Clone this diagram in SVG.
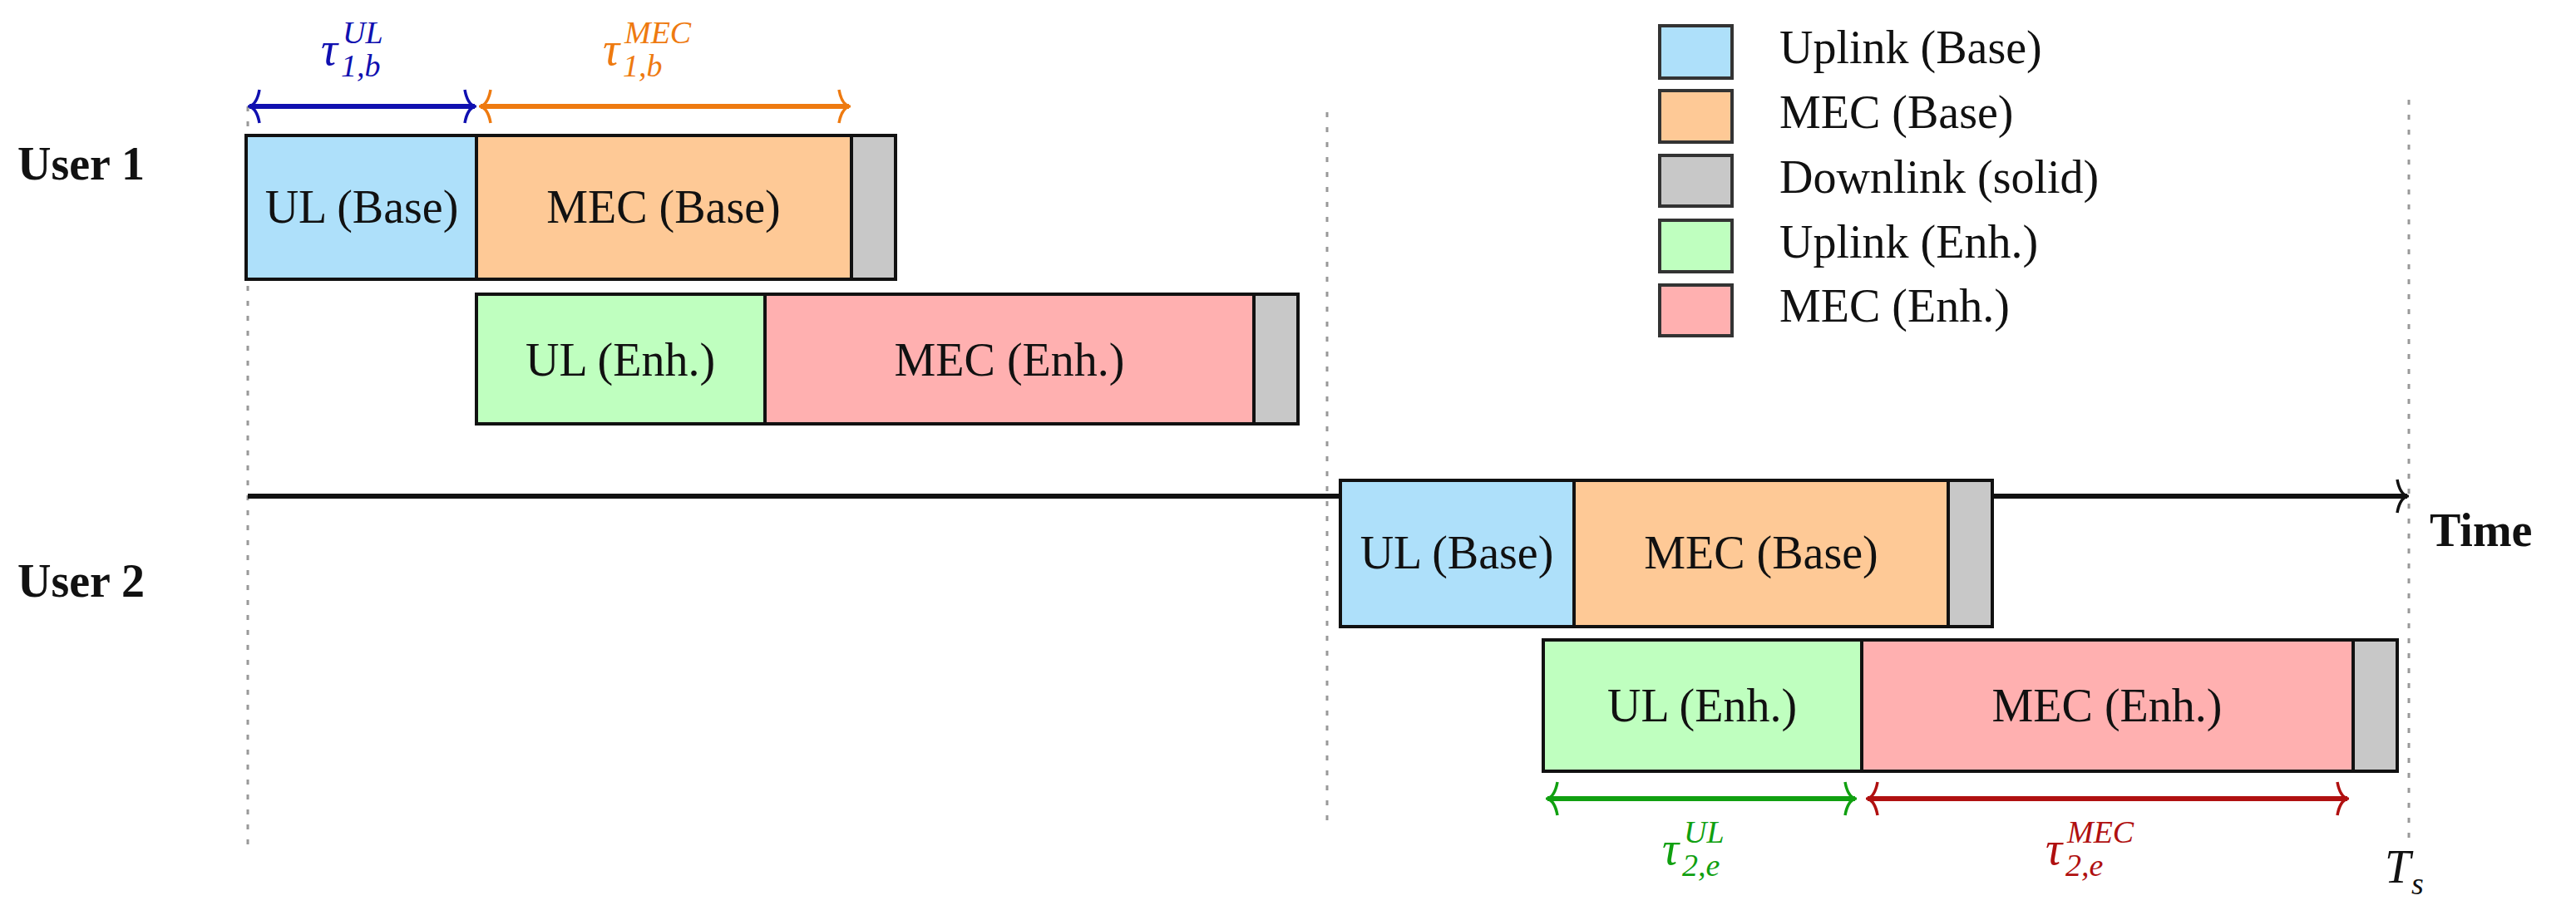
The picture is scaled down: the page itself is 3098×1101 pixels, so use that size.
<svg xmlns="http://www.w3.org/2000/svg" width="3098" height="1101" viewBox="0 0 3098 1101">
<style>
text{font-family:"Liberation Serif","DejaVu Serif",serif;fill:#111}
.t{font-size:56px;text-anchor:middle}
.lg{font-size:56px}
.b{font-size:56px;font-weight:bold}
.box{stroke:#111;stroke-width:4}
.ub{fill:#aee0fa}.mb{fill:#fec996}.dl{fill:#c8c8c8}.ue{fill:#bfffbf}.me{fill:#ffb0b0}
.dot{stroke:#999;stroke-width:3;stroke-dasharray:6 12;fill:none}
.math{font-style:italic;font-size:56px}
.sub{font-style:italic;font-size:38px}
</style>
<defs>
<marker id="tip" viewBox="-14 -22 16 44" markerWidth="16" markerHeight="44" refX="0" refY="0" orient="auto-start-reverse" markerUnits="userSpaceOnUse">
<path d="M-12,-20 Q-9,-3 0,0 Q-9,3 -12,20" fill="none" stroke="context-stroke" stroke-width="3.5"/>
</marker>
</defs>
<g id="guides">
<line class="dot" x1="298" y1="128" x2="298" y2="1020"/>
<line class="dot" x1="1596" y1="135" x2="1596" y2="996"/>
<line class="dot" x1="2897" y1="120" x2="2897" y2="1016"/>
</g>
<g id="connectors" fill="none" stroke-width="6">
<line x1="298" y1="597" x2="2895" y2="597" stroke="#111" marker-end="url(#tip)"/>
<line x1="300" y1="128" x2="571" y2="128" stroke="#1010b0" marker-start="url(#tip)" marker-end="url(#tip)"/>
<line x1="578" y1="128" x2="1021" y2="128" stroke="#ee7a10" marker-start="url(#tip)" marker-end="url(#tip)"/>
<line x1="1861" y1="961" x2="2231" y2="961" stroke="#10a010" marker-start="url(#tip)" marker-end="url(#tip)"/>
<line x1="2246" y1="961" x2="2823" y2="961" stroke="#b01010" marker-start="url(#tip)" marker-end="url(#tip)"/>
</g>
<g id="user1-base">
<rect class="box ub" x="296" y="163" width="277" height="173"/>
<rect class="box mb" x="573" y="163" width="451" height="173"/>
<rect class="box dl" x="1024" y="163" width="53" height="173"/>
<text class="t" x="435" y="268">UL (Base)</text>
<text class="t" x="798" y="268">MEC (Base)</text>
</g>
<g id="user1-enh">
<rect class="box ue" x="573" y="354" width="347" height="156"/>
<rect class="box me" x="920" y="354" width="588" height="156"/>
<rect class="box dl" x="1508" y="354" width="53" height="156"/>
<text class="t" x="746" y="452">UL (Enh.)</text>
<text class="t" x="1214" y="452">MEC (Enh.)</text>
</g>
<g id="user2-base">
<rect class="box ub" x="1612" y="578" width="281" height="176"/>
<rect class="box mb" x="1893" y="578" width="450" height="176"/>
<rect class="box dl" x="2343" y="578" width="53" height="176"/>
<text class="t" x="1752" y="684">UL (Base)</text>
<text class="t" x="2118" y="684">MEC (Base)</text>
</g>
<g id="user2-enh">
<rect class="box ue" x="1856" y="770" width="383" height="158"/>
<rect class="box me" x="2239" y="770" width="591" height="158"/>
<rect class="box dl" x="2830" y="770" width="53" height="158"/>
<text class="t" x="2047" y="868">UL (Enh.)</text>
<text class="t" x="2534" y="868">MEC (Enh.)</text>
</g>
<g id="labels">
<text class="b" x="21" y="216">User 1</text>
<text class="b" x="21" y="718">User 2</text>
<text class="b" x="2922" y="657">Time</text>
<text class="math" x="2868" y="1062">T</text><text class="sub" x="2900" y="1076">s</text>
<g style="fill:#1010b0"><text class="math" x="386" y="78" style="fill:#1010b0">τ</text><text class="sub" x="410" y="92" style="fill:#1010b0">1,b</text><text class="sub" x="412" y="52" style="fill:#1010b0">UL</text></g>
<text class="math" x="725" y="78" style="fill:#ee7a10">τ</text><text class="sub" x="749" y="92" style="fill:#ee7a10">1,b</text><text class="sub" x="751" y="52" style="fill:#ee7a10">MEC</text>
<text class="math" x="1999" y="1040" style="fill:#10a010">τ</text><text class="sub" x="2023" y="1054" style="fill:#10a010">2,e</text><text class="sub" x="2025" y="1014" style="fill:#10a010">UL</text>
<text class="math" x="2460" y="1040" style="fill:#b01010">τ</text><text class="sub" x="2484" y="1054" style="fill:#b01010">2,e</text><text class="sub" x="2486" y="1014" style="fill:#b01010">MEC</text>
</g>
<g id="legend">
<rect class="box ub" x="1996" y="31" width="87" height="63" style="stroke:#333"/>
<rect class="box mb" x="1996" y="109" width="87" height="62" style="stroke:#333"/>
<rect class="box dl" x="1996" y="187" width="87" height="61" style="stroke:#333"/>
<rect class="box ue" x="1996" y="265" width="87" height="62" style="stroke:#333"/>
<rect class="box me" x="1996" y="343" width="87" height="61" style="stroke:#333"/>
<text class="lg" x="2140" y="76">Uplink (Base)</text>
<text class="lg" x="2140" y="154">MEC (Base)</text>
<text class="lg" x="2140" y="232">Downlink (solid)</text>
<text class="lg" x="2140" y="310">Uplink (Enh.)</text>
<text class="lg" x="2140" y="387">MEC (Enh.)</text>
</g>
</svg>
